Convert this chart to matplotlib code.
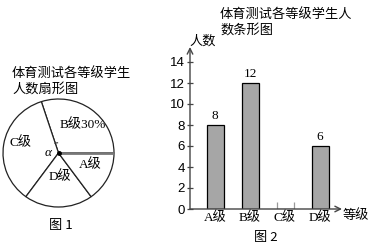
import matplotlib
matplotlib.use("Agg")
import matplotlib.pyplot as plt
from matplotlib.patches import Arc
import numpy as np

# ---- data ----
pie_labels = ["B级30%", "C级", "D级", "A级"]
pie_shares = [30, 35, 20, 15]          # drawn sector sizes (percent)
bar_categories = ["A级", "B级", "C级", "D级"]
bar_values = [8, 12, 0, 6]
bar_value_labels = ["8", "12", "", "6"]
y_ticks = [0, 2, 4, 6, 8, 10, 12, 14]
pie_title = "体育测试各等级学生\n人数扇形图"
bar_title = "体育测试各等级学生人\n数条形图"

W, H = 372, 248
fig = plt.figure(figsize=(W / 100, H / 100), dpi=100)
fig.patch.set_facecolor("white")

def P(x, y):
    return (x / W, 1 - y / H)

MIX = ["Liberation Serif", "Noto Sans CJK SC"]
CJK = ["Noto Sans CJK SC", "DejaVu Sans"]

# ---- pie (figure 1) ----
cx, cy, rx, ry = 58.5, 153, 55.5, 54
axp = fig.add_axes([(cx - rx) / W, (H - cy - ry) / H, 2 * rx / W, 2 * ry / H])
axp.pie(pie_shares, startangle=0, counterclock=True, colors=["white"] * 4,
        wedgeprops=dict(edgecolor="#222222", linewidth=0.9))
axp.set_aspect("auto")
axp.set_xlim(-1, 1)
axp.set_ylim(-1, 1)
axp.axis("off")
for p in axp.patches:
    p.set_clip_on(False)
axp.plot([0, 1], [0, 0], color="#777777", lw=2.0, solid_capstyle="butt", clip_on=False)
axp.plot([0], [0], "o", color="black", ms=2.5, clip_on=False)
axp.add_patch(Arc((0, 0), 0.38, 0.38, theta1=92, theta2=112, color="#333333", lw=0.8))

fig.text(*P(83, 125), pie_labels[0], family=MIX, fontsize=9.5, ha="center", va="center")
fig.text(*P(21, 143), pie_labels[1], family=MIX, fontsize=9.5, ha="center", va="center")
fig.text(*P(60, 177), pie_labels[2], family=MIX, fontsize=9.5, ha="center", va="center")
fig.text(*P(90, 165), pie_labels[3], family=MIX, fontsize=9.5, ha="center", va="center")
fig.text(*P(48, 153), "α", family=["Liberation Serif"], style="italic", fontsize=9.5,
         ha="center", va="center")
fig.text(*P(12, 81.5), pie_title, family=CJK, fontsize=9.5, ha="left", va="center",
         linespacing=1.25)
fig.text(*P(61, 225), "图 1", family=["Noto Sans CJK SC"], fontsize=9.5, ha="center", va="center")

# ---- bar chart (figure 2) ----
x0, yb, ppu, sp = 190, 209, 10.5, 35.0
first_c = 215
xmin = -(first_c - x0) / sp
xmax = (342 - first_c) / sp
ymax = (yb - 47) / ppu
axb = fig.add_axes([x0 / W, (H - yb) / H, (342 - x0) / W, (yb - 47) / H])
axb.set_xlim(xmin, xmax)
axb.set_ylim(0, ymax)
pos = np.arange(len(bar_categories))
bw = 17 / sp
axb.bar(pos, bar_values, width=bw, color="#a6a6a6", edgecolor="black", linewidth=0.9, zorder=3)
for x, v, t in zip(pos, bar_values, bar_value_labels):
    if t:
        axb.text(x, v + 0.25, t, family=["Liberation Serif"], fontsize=9.5,
                 ha="center", va="bottom")
for x, v in zip(pos, bar_values):
    if v == 0:
        axb.vlines([x - bw / 2, x + bw / 2], 0, 0.65, color="#999999", lw=0.9)
for s in axb.spines.values():
    s.set_visible(False)
axb.annotate("", xy=(xmin, 1.0), xytext=(xmin, 0), xycoords=("data", "axes fraction"),
             textcoords=("data", "axes fraction"),
             arrowprops=dict(arrowstyle="->", color="#444444", lw=1.0, shrinkA=0, shrinkB=0))
axb.annotate("", xy=(xmax, 0), xytext=(xmin, 0),
             arrowprops=dict(arrowstyle="->", color="#444444", lw=1.0, shrinkA=0, shrinkB=0))
axb.set_yticks(y_ticks)
axb.set_yticklabels([str(v) for v in y_ticks], family=["Liberation Sans"], fontsize=9.5)
axb.tick_params(axis="y", direction="inout", length=5, width=0.9, color="#444444", pad=1)
axb.set_xticks(pos)
axb.set_xticklabels(bar_categories, family=MIX, fontsize=9.5)
axb.tick_params(axis="x", length=0, pad=2)
fig.text(*P(356, 216), "等级", family=CJK, fontsize=9.5, ha="center", va="center")
fig.text(*P(203, 41), "人数", family=CJK, fontsize=9.5, ha="center", va="center")
fig.text(*P(220, 22), bar_title, family=CJK, fontsize=9.5, ha="left", va="center",
         linespacing=1.25)
fig.text(*P(266, 238), "图 2", family=["Noto Sans CJK SC"], fontsize=9.5, ha="center", va="center")

fig.savefig("out.png", dpi=100)
